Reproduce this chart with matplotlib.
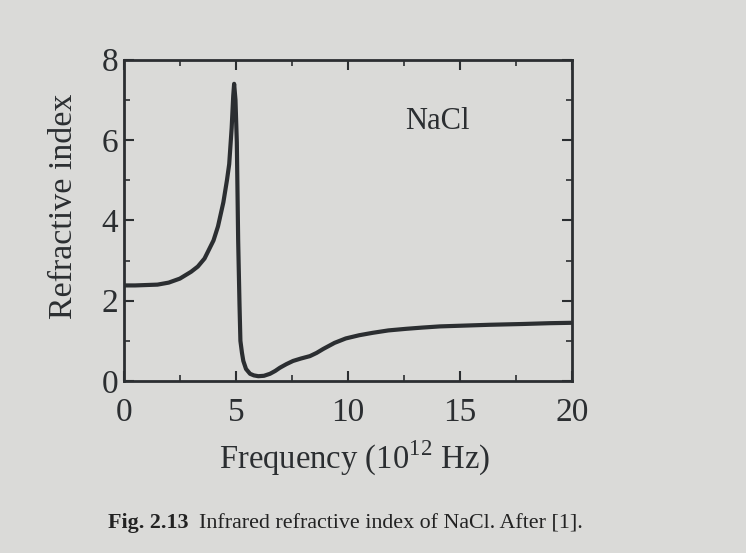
import matplotlib
matplotlib.use('Agg')
import matplotlib.pyplot as plt
from matplotlib.ticker import MultipleLocator

# refractive index of NaCl
freq = [0.0, 0.5, 1.0, 1.5, 2.0, 2.5, 3.0, 3.3, 3.6, 4.0, 4.2, 4.44, 4.6, 4.7, 4.81, 4.88, 4.92,
        4.98, 5.04, 5.1, 5.16, 5.2, 5.27, 5.33, 5.45, 5.63, 5.8, 6.0, 6.25, 6.52, 6.75, 6.96,
        7.25, 7.55, 7.9, 8.3, 8.6, 8.9, 9.4, 9.9, 10.5, 11.1, 11.8, 12.6, 13.3, 14.1, 15.2,
        16.3, 17.8, 19.0, 20.0]
n_index = [2.38, 2.38, 2.39, 2.40, 2.45, 2.55, 2.72, 2.85, 3.05, 3.5, 3.85, 4.45, 5.0, 5.4, 6.3, 7.1, 7.4,
           7.0, 5.95, 3.5, 1.9, 1.0, 0.7, 0.5, 0.3, 0.18, 0.14, 0.12, 0.13, 0.18, 0.25, 0.33,
           0.42, 0.5, 0.56, 0.62, 0.7, 0.8, 0.95, 1.06, 1.14, 1.2, 1.26, 1.3, 1.33, 1.36, 1.38,
           1.40, 1.42, 1.44, 1.45]

bg = '#dadad8'
ink = '#2b2e31'

plt.rcParams['font.family'] = ['Liberation Serif', 'DejaVu Serif']
plt.rcParams['mathtext.fontset'] = 'custom'
plt.rcParams['mathtext.rm'] = 'Liberation Serif'

fig = plt.figure(figsize=(7.46, 5.53), dpi=100, facecolor=bg)
ax = fig.add_axes([0.166, 0.311, 0.601, 0.581])
ax.set_facecolor(bg)

ax.plot(freq, n_index, color=ink, linewidth=3.0, solid_joinstyle='round')

ax.set_xlim(0, 20)
ax.set_ylim(0, 8)
ax.xaxis.set_major_locator(MultipleLocator(5))
ax.xaxis.set_minor_locator(MultipleLocator(2.5))
ax.yaxis.set_major_locator(MultipleLocator(2))
ax.yaxis.set_minor_locator(MultipleLocator(1))
ax.tick_params(which='both', direction='in', top=True, right=True, color=ink,
               labelsize=24, labelcolor=ink)
ax.tick_params(axis='x', pad=12)
ax.tick_params(axis='y', pad=4)
ax.tick_params(which='major', length=7, width=1.5)
ax.tick_params(which='minor', length=4, width=1.2)
for s in ax.spines.values():
    s.set_color(ink)
    s.set_linewidth(2.0)

ax.set_xlabel('Frequency (10$^{12}$ Hz)', fontsize=23.5, color=ink)
ax.xaxis.set_label_coords(0.515, -0.18)
ax.set_ylabel('Refractive index', fontsize=24.5, color=ink)
ax.yaxis.set_label_coords(-0.1, 0.545)
ax.text(14.0, 6.45, 'NaCl', fontsize=22, color=ink, ha='center', va='center')

fig.text(0.145, 0.045, 'Fig. 2.13', fontsize=15.8, fontweight='bold', color='#222222')
fig.text(0.267, 0.045, 'Infrared refractive index of NaCl. After [1].', fontsize=15.8, color='#222222')

fig.savefig('out.png', dpi=100, facecolor=bg)
